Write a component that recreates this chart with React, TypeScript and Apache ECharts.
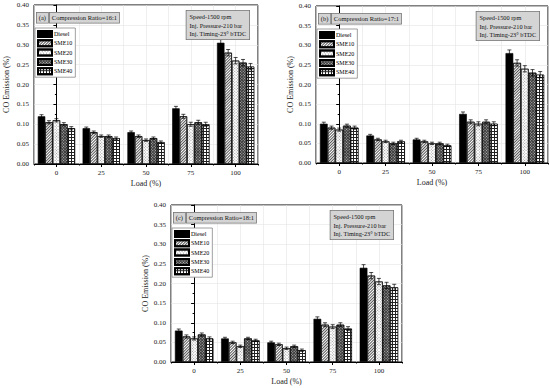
import React, { useEffect, useRef } from 'react';
import * as echarts from 'echarts';

const loads = ['0', '25', '50', '75', '100'];
const fuels = ['Diesel', 'SME10', 'SME20', 'SME30', 'SME40'];
const panelTags = ['(a)', '(b)', '(c)'];
const ratioLabels = ['Compression Ratio=16:1', 'Compression Ratio=17:1', 'Compression Ratio=18:1'];
const conditionLines = ['Speed-1500 rpm', 'Inj. Pressure-210 bar', 'Inj. Timing-23° bTDC'];

// CR 16:1
const cr16Diesel = [0.12, 0.09, 0.08, 0.14, 0.305];
const cr16SME10 = [0.105, 0.08, 0.07, 0.12, 0.28];
const cr16SME20 = [0.11, 0.07, 0.06, 0.1, 0.26];
const cr16SME30 = [0.1, 0.07, 0.065, 0.105, 0.255];
const cr16SME40 = [0.09, 0.065, 0.055, 0.1, 0.245];
const cr16Err = [0.004, 0.003, 0.003, 0.005, 0.008];

// CR 17:1
const cr17Diesel = [0.1, 0.07, 0.06, 0.125, 0.28];
const cr17SME10 = [0.09, 0.06, 0.055, 0.105, 0.255];
const cr17SME20 = [0.085, 0.055, 0.05, 0.1, 0.24];
const cr17SME30 = [0.095, 0.05, 0.05, 0.105, 0.23];
const cr17SME40 = [0.09, 0.055, 0.045, 0.1, 0.225];
const cr17Err = [0.004, 0.003, 0.003, 0.005, 0.008];

// CR 18:1
const cr18Diesel = [0.08, 0.06, 0.05, 0.11, 0.24];
const cr18SME10 = [0.065, 0.05, 0.045, 0.095, 0.22];
const cr18SME20 = [0.06, 0.04, 0.035, 0.09, 0.205];
const cr18SME30 = [0.07, 0.06, 0.04, 0.095, 0.195];
const cr18SME40 = [0.06, 0.055, 0.03, 0.085, 0.19];
const cr18Err = [0.004, 0.003, 0.003, 0.005, 0.008];

const panelValues = [
  [cr16Diesel, cr16SME10, cr16SME20, cr16SME30, cr16SME40],
  [cr17Diesel, cr17SME10, cr17SME20, cr17SME30, cr17SME40],
  [cr18Diesel, cr18SME10, cr18SME20, cr18SME30, cr18SME40],
];
const panelErrs = [cr16Err, cr17Err, cr18Err];

const FONT = 'Liberation Serif';
const GAP = 0.17;

const grids = [
  { left: 34, top: 5, width: 224, height: 159 },
  { left: 316, top: 6, width: 232, height: 157 },
  { left: 171, top: 205, width: 231, height: 157 },
];
const yNameGaps = [24, 19, 19];

const fuelStyles: any[] = [
  { color: '#000', borderColor: '#000', borderWidth: 0.6 },
  {
    color: '#fff', borderColor: '#000', borderWidth: 0.6,
    decal: { symbol: 'rect', symbolSize: 1, color: '#555', dashArrayX: [1, 0], dashArrayY: [1, 1], rotation: -Math.PI / 4 },
  },
  {
    color: '#fff', borderColor: '#000', borderWidth: 0.6,
    decal: { symbol: 'rect', symbolSize: 1, color: '#999', dashArrayX: [1, 1], dashArrayY: [1, 1], rotation: Math.PI / 4 },
  },
  {
    color: '#3c3c3c', borderColor: '#000', borderWidth: 0.6,
    decal: { symbol: 'rect', symbolSize: 1, color: '#bbb', dashArrayX: [1, 1], dashArrayY: [1, 1], rotation: Math.PI / 4 },
  },
  {
    color: '#222', borderColor: '#000', borderWidth: 0.6,
    decal: { symbol: 'rect', symbolSize: 1, color: '#fff', dashArrayX: [2, 1], dashArrayY: [2, 1], rotation: 0 },
  },
];

function buildOption() {
  const xAxis: any[] = [];
  const yAxis: any[] = [];
  const series: any[] = [];
  const legend: any[] = [];
  const graphic: any[] = [];
  const tagStyle = {
    fontFamily: FONT, fontSize: 6.5, fill: '#111', backgroundColor: '#d4d4d4',
    borderColor: '#777', borderWidth: 0.8, padding: [1.5, 2],
  };

  grids.forEach((g, p) => {
    xAxis.push({
      type: 'category', gridIndex: p, data: loads, position: 'bottom',
      axisLine: { show: true, lineStyle: { color: '#000', width: 1 } },
      axisTick: { show: true, alignWithLabel: true, length: 3, lineStyle: { color: '#000' } },
      axisLabel: { fontFamily: FONT, fontSize: 7, color: '#222', margin: 5 },
      splitLine: { show: false },
      name: 'Load (%)', nameLocation: 'middle', nameGap: 15,
      nameTextStyle: { fontFamily: FONT, fontSize: 8, color: '#222' },
    });
    xAxis.push({
      type: 'value', gridIndex: p, min: -0.5, max: 4.5, interval: 0.5, position: 'bottom',
      axisLine: { show: false },
      axisTick: { show: true, length: 1.5, lineStyle: { color: '#000' } },
      axisLabel: { show: false },
      splitLine: { show: true, lineStyle: { color: '#e4e4e4', width: 0.6 } },
    });
    yAxis.push({
      type: 'value', gridIndex: p, min: 0, max: 0.4, interval: 0.05,
      axisLine: { show: true, lineStyle: { color: '#000', width: 1 } },
      axisTick: { show: true, length: 3, lineStyle: { color: '#000' } },
      minorTick: { show: true, splitNumber: 2, length: 1.5, lineStyle: { color: '#000' } },
      axisLabel: { fontFamily: FONT, fontSize: 7, color: '#222', margin: 5, formatter: (v: number) => v.toFixed(2) },
      splitLine: { show: true, lineStyle: { color: '#e4e4e4', width: 0.6 } },
      name: 'CO Emission (%)', nameLocation: 'middle', nameGap: yNameGaps[p],
      nameTextStyle: { fontFamily: FONT, fontSize: 8, color: '#222' },
    });

    fuels.forEach((f, k) => {
      series.push({
        type: 'bar', name: f, xAxisIndex: 2 * p, yAxisIndex: p,
        data: panelValues[p][k], barGap: '0%', barCategoryGap: GAP * 100 + '%',
        itemStyle: fuelStyles[k], z: 3,
      });
    });
    fuels.forEach((f, k) => {
      series.push({
        type: 'custom', name: f + ' err', xAxisIndex: 2 * p, yAxisIndex: p, z: 4,
        encode: { x: 0, y: 1 },
        data: panelValues[p][k].map((v, i) => [i, v, panelErrs[p][i]]),
        renderItem: (params: any, api: any) => {
          const cat = api.value(0);
          const v = api.value(1);
          const e = api.value(2);
          const catW = api.size([1, 0])[0];
          const barW = (catW * (1 - GAP)) / 5;
          const c = api.coord([cat, v]);
          const x = c[0] + (k - 2) * barW;
          const yt = api.coord([cat, v + e])[1];
          const yb = api.coord([cat, v - e])[1];
          const st = { stroke: '#000', lineWidth: 0.7 };
          return {
            type: 'group',
            children: [
              { type: 'line', shape: { x1: x, y1: yt, x2: x, y2: yb }, style: st },
              { type: 'line', shape: { x1: x - 2, y1: yt, x2: x + 2, y2: yt }, style: st },
              { type: 'line', shape: { x1: x - 2, y1: yb, x2: x + 2, y2: yb }, style: st },
            ],
          };
        },
      });
    });

    legend.push({
      data: fuels, orient: 'vertical', left: g.left + 1, top: g.top + 23,
      icon: 'rect', itemWidth: 14, itemHeight: 6, itemGap: 1.3,
      padding: [2, 3, 2, 2], borderColor: '#888', borderWidth: 0.8, backgroundColor: '#fff',
      textStyle: { fontFamily: FONT, fontSize: 6, color: '#000', padding: [0, 0, 0, -3] },
      inactiveColor: '#000',
      selectedMode: false,
    });

    graphic.push({
      type: 'text', left: g.left + 2, top: g.top + 7, z: 10,
      style: { text: panelTags[p], ...tagStyle },
    });
    graphic.push({
      type: 'text', left: g.left + 15, top: g.top + 7, z: 10,
      style: { text: ratioLabels[p], ...tagStyle },
    });
    graphic.push({
      type: 'text', right: 550 - (g.left + g.width) + 8, top: g.top + 5, z: 10,
      style: {
        text: conditionLines.join('\n'), fontFamily: FONT, fontSize: 6.3, lineHeight: 8.5,
        fill: '#111', backgroundColor: '#d4d4d4', borderColor: '#777', borderWidth: 0.8, padding: [1.5, 3],
      },
    });
  });

  return {
    animation: false,
    backgroundColor: '#fff',
    grid: grids.map((g) => ({ ...g, show: true, borderColor: '#000', borderWidth: 1, backgroundColor: 'transparent' })),
    xAxis, yAxis, series, legend, graphic,
  };
}

export default function App() {
  const ref = useRef<HTMLDivElement>(null);
  useEffect(() => {
    if (!ref.current) return;
    const chart = echarts.init(ref.current, undefined, { renderer: 'svg' });
    chart.setOption(buildOption() as any);
    return () => chart.dispose();
  }, []);
  return (
    <div
      ref={ref}
      style={{ position: 'absolute', left: 0, top: 0, width: 550, height: 388, background: '#fff' }}
    />
  );
}
